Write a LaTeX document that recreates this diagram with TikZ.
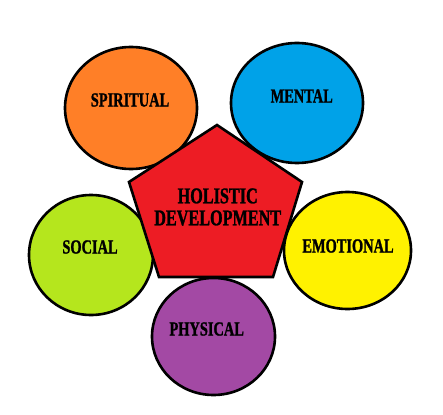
\documentclass[tikz,border=0pt]{standalone}
\usepackage{fontspec}
\newfontfamily\labfont{Liberation Serif}[FakeStretch=0.72,FakeBold=1.2]
\definecolor{cOrange}{RGB}{255,127,39}
\definecolor{cBlue}{RGB}{0,162,232}
\definecolor{cRed}{RGB}{237,28,36}
\definecolor{cLime}{RGB}{181,230,29}
\definecolor{cYellow}{RGB}{255,242,0}
\definecolor{cPurple}{RGB}{163,73,164}
\tikzset{
  blob/.style={draw=black, line width=2.6pt},
  lab/.style={font=\labfont\bfseries\fontsize{20}{22}\selectfont, inner sep=0pt, text=black},
  biglab/.style={font=\labfont\bfseries\fontsize{22.5}{26}\selectfont, inner sep=0pt, align=center, text=black}
}
\begin{document}
\begin{tikzpicture}[x=1pt,y=-1pt]
\useasboundingbox (0,0) rectangle (443,414);
% circles
\draw[blob, fill=cOrange] (131,108) ellipse [x radius=66, y radius=61];
\draw[blob, fill=cBlue] (297,103) ellipse [x radius=66, y radius=60];
\draw[blob, fill=cLime] (91,255) ellipse [x radius=62, y radius=60];
\draw[blob, fill=cYellow] (347.5,250.5) ellipse [x radius=63.5, y radius=58.5];
\draw[blob, fill=cPurple] (213.5,336.5) ellipse [x radius=61.5, y radius=58.5];
% pentagon
\coordinate (p1) at (217,125);
\coordinate (p2) at (302,182);
\coordinate (p3) at (273,277);
\coordinate (p4) at (159,277);
\coordinate (p5) at (129,182);
\draw[blob, fill=cRed, line join=miter] (p1) -- (p2) -- (p3) -- (p4) -- (p5) -- cycle;
% labels
\node[lab] (spiritual) at (130,100) {SPIRITUAL};
\node[lab] (mental) at (301.7,96) {MENTAL};
\node[lab] (social) at (90,247) {SOCIAL};
\node[lab] (emotional) at (348,246) {EMOTIONAL};
\node[lab] (physical) at (206.7,329) {PHYSICAL};
\node[biglab] (holistic) at (217.7,207) {HOLISTIC\\[-4pt]DEVELOPMENT};
\end{tikzpicture}
\end{document}
